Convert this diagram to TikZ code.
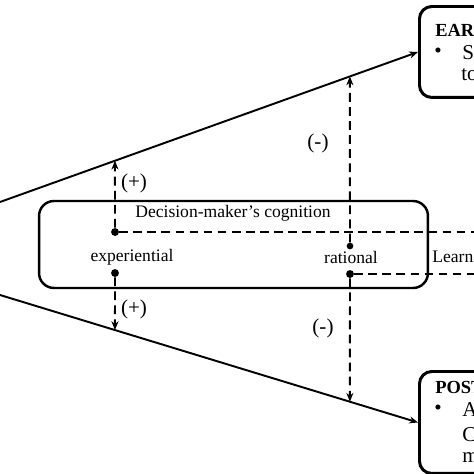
\documentclass[tikz,border=0pt]{standalone}
\usepackage{fontspec}
\setmainfont{Liberation Serif}
\usetikzlibrary{arrows.meta,calc}

\begin{document}
\begin{tikzpicture}[x=0.02cm, y=-0.02cm,
    pfeil/.style={-{Stealth[length=5pt,width=4pt]}},
    linie/.style={line width=1.1pt},
    gestrichelt/.style={dash pattern=on 5pt off 3pt, line width=1.1pt},
    kasten/.style={draw, line width=1.7pt, rounded corners=7pt, inner sep=0pt},
    punkt/.style={circle, fill, inner sep=0pt, minimum size=4.5pt},
    txt/.style={inner sep=0pt, font=\fontsize{10}{12}\selectfont},
    gross/.style={inner sep=0pt, font=\fontsize{12}{14}\selectfont}]

    % Bildausschnitt
    \useasboundingbox (0,0) rectangle (474,474);
    \clip (0,0) rectangle (474,474);

    % Mittleres Rechteck
    \node[kasten, line width=1.4pt, rounded corners=8.5pt, minimum width=7.78cm, minimum height=1.74cm] (cog) at (233.5,244.5) {};
    \node[txt] (cogtitel) at (233,213) {Decision-maker’s cognition};
    \node[txt] (exp) at (132,257) {experiential};
    \node[txt] (rat) at (351,257) {rational};
    \node[txt, anchor=west] (learn) at (432,257) {Learn};

    % Rechte Kästen (angeschnitten)
    \node[kasten, minimum width=2.4cm, minimum height=1.82cm, anchor=north west] (early) at (418,5) {};
    \node[txt, anchor=west, font=\fontsize{10.5}{12}\selectfont] (earlytitel) at (435,30) {\textbf{EAR}};
    \node[gross] (earlyb) at (438,53) {\textbullet};
    \node[gross, anchor=west] (earlys) at (462,53) {S};
    \node[gross, anchor=west] (earlyto) at (461,75) {to};

    \node[kasten, minimum width=2.4cm, minimum height=2.04cm, anchor=north west] (post) at (418,370) {};
    \node[txt, anchor=west, font=\fontsize{10.5}{12}\selectfont] (posttitel) at (435,387) {\textbf{POST}};
    \node[gross] (postb) at (438,410) {\textbullet};
    \node[gross, anchor=west] (posta) at (462,410) {A};
    \node[gross, anchor=west] (postc) at (462,435) {C};
    \node[gross, anchor=west] (postm) at (462,458) {m};

    % Schräge Pfeile
    \coordinate (srcA) at (0,202);
    \coordinate (srcB) at (0,295);
    \draw[linie, pfeil] (srcA) -- (early.west);
    \draw[linie, pfeil] (srcB) -- (post.west);

    % Punkte
    \node[punkt] (expU) at (115,232) {};
    \node[punkt] (expL) at (115,273) {};
    \node[punkt, minimum size=3.8pt] (ratU) at (350,246) {};
    \node[punkt] (ratL) at (350,274) {};

    % Treffpunkte auf den schrägen Linien
    \coordinate (hitA1) at ($(srcA)!0.275!(early.west)$);
    \coordinate (hitB1) at ($(srcB)!0.275!(post.west)$);
    \coordinate (hitA2) at ($(srcA)!0.837!(early.west)$);
    \coordinate (hitB2) at ($(srcB)!0.837!(post.west)$);
    \coordinate (fbU) at (480,232);
    \coordinate (fbL) at (480,274);

    % Gestrichelte Pfeile
    \draw[gestrichelt, pfeil] (expU) -- (hitA1);
    \draw[gestrichelt, pfeil] (expL) -- (hitB1);
    \draw[gestrichelt, pfeil] (ratU) -- (hitA2);
    \draw[gestrichelt, pfeil] (ratL) -- (hitB2);
    \draw[gestrichelt] (expU) -- (fbU);
    \draw[gestrichelt] (ratL) -- (fbL);

    % Vorzeichen
    \node[gross] (plusA) at (134,183) {(+)};
    \node[gross] (plusB) at (134,309) {(+)};
    \node[gross] (minusA) at (318,143) {(-)};
    \node[gross] (minusB) at (323,328) {(-)};
\end{tikzpicture}
\end{document}
